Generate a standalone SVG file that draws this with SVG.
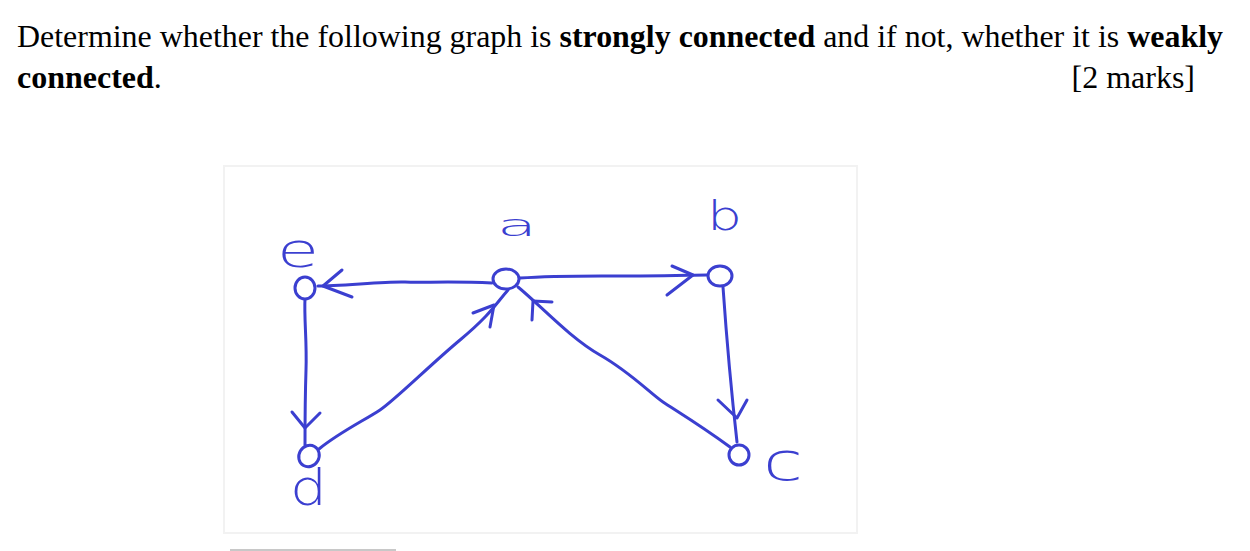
<svg xmlns="http://www.w3.org/2000/svg" width="1250" height="551" viewBox="0 0 1250 551">
<style>
.q{font-family:"Liberation Serif","Times New Roman",serif;font-size:32px;fill:#000}
.b{font-weight:bold}
.ed{fill:none;stroke:#3b3fd0;stroke-width:3;stroke-linecap:round;stroke-linejoin:round}
.nd{fill:#fff;stroke:#3b3fd0;stroke-width:3}
.lb{font-family:"DejaVu Sans",sans-serif;font-weight:200;fill:#3b3fd0}
</style>
<rect width="1250" height="551" fill="#fff"/>
<text class="q" x="17" y="47" textLength="1206" lengthAdjust="spacingAndGlyphs">Determine whether the following graph is <tspan class="b">strongly connected</tspan> and if not, whether it is <tspan class="b">weakly</tspan></text>
<text class="q" x="17" y="88"><tspan class="b">connected</tspan>.</text>
<text class="q" x="1195" y="88" text-anchor="end">[2 marks]</text>
<rect x="224" y="166" width="633" height="367" fill="none" stroke="#f2f2f2" stroke-width="2"/>
<line x1="230" y1="550" x2="396" y2="550" stroke="#c8c8c8" stroke-width="2"/>
<g id="connectors">
<path class="ed" d="M492,283 C450,281 420,283 405,282 S340,286 318,286"/>
<path class="ed" d="M342,270 L323,286 L352,297"/>
<path class="ed" d="M520,278 C560,275 600,276 640,276 S690,275 707,275"/>
<path class="ed" d="M672,266 L693,275 L667,295"/>
<path class="ed" d="M305,298 C304,320 307,340 306,370 S305,420 305,445"/>
<path class="ed" d="M292,412 L305,428 L320,413"/>
<path class="ed" d="M319,449 C340,432 365,420 380,410 S430,365 460,340 S495,305 508,290"/>
<path class="ed" d="M473,313 L494,305 L490,327"/>
<path class="ed" d="M730,447 C700,425 675,410 663,402 S630,372 600,355 S540,305 518,287"/>
<path class="ed" d="M552,302 L533,301 L532,320"/>
<path class="ed" d="M723,287 C726,330 730,380 737,442"/>
<path class="ed" d="M718,400 L737,418 L747,400"/>
</g>
<g id="node-a"><ellipse class="nd" cx="506" cy="279" rx="13" ry="10"/><text class="lb" x="497" y="236" font-size="30" textLength="40" lengthAdjust="spacingAndGlyphs">a</text></g>
<g id="node-b"><ellipse class="nd" cx="720" cy="276" rx="12" ry="10"/><text class="lb" x="707" y="230" font-size="40" textLength="35" lengthAdjust="spacingAndGlyphs">b</text></g>
<g id="node-c"><ellipse class="nd" cx="739" cy="455" rx="10" ry="10"/><text class="lb" x="763" y="480" font-size="54" textLength="40" lengthAdjust="spacingAndGlyphs">c</text></g>
<g id="node-d"><ellipse class="nd" cx="309" cy="456" rx="10" ry="11" transform="rotate(30 309 456)"/><text class="lb" x="290" y="505" font-size="49" textLength="37" lengthAdjust="spacingAndGlyphs">d</text></g>
<g id="node-e"><ellipse class="nd" cx="305" cy="288" rx="10" ry="11"/><text class="lb" x="277" y="267" font-size="48" textLength="42" lengthAdjust="spacingAndGlyphs">e</text></g>
</svg>
